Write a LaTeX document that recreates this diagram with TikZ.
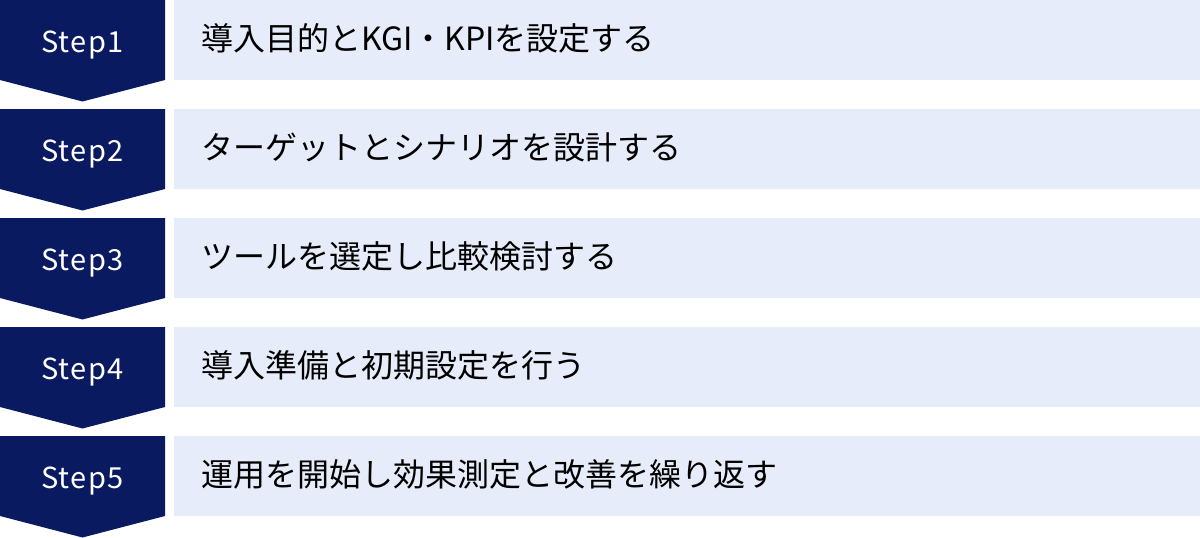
\documentclass[tikz,border=0pt]{standalone}
\usepackage{fontspec}
\setmainfont{Noto Sans CJK JP}
\newfontfamily\stepfont[LetterSpace=5]{Noto Sans CJK JP}
\definecolor{navy}{HTML}{0A1A60}
\definecolor{pale}{HTML}{E6ECF9}
\tikzset{
  chev/.style={fill=navy, draw=none},
  bar/.style={fill=pale, draw=none, minimum width=1026pt, minimum height=80pt, anchor=north west, inner sep=0pt},
  steplbl/.style={text=white, font=\stepfont\fontsize{29}{32}\selectfont, anchor=base, inner sep=0pt},
  desc/.style={text=black, font=\fontsize{32}{36}\selectfont, anchor=west, inner sep=0pt}
}
\begin{document}
\begin{tikzpicture}[x=1pt,y=-1pt]
\useasboundingbox (0,0) rectangle (1200,538);
\foreach \i/\t in {0/導入目的とKGI・KPIを設定する,1/ターゲットとシナリオを設計する,2/ツールを選定し比較検討する,3/導入準備と初期設定を行う,4/運用を開始し効果測定と改善を繰り返す}{
  \pgfmathsetmacro{\y}{\i*109}
  \fill[chev] (0,\y) -- (165,\y) -- (165,\y+80) -- (82.5,\y+101.5) -- (0,\y+80) -- cycle;
  \node[bar] (b\i) at (174,\y) {};
  \pgfmathtruncatemacro{\n}{\i+1}
  \node[steplbl] (s\i) at (82.5,\y+52) {Step\n};
  \node[desc] (d\i) at (201,\y+38.5) {\t};
}
\end{tikzpicture}
\end{document}
